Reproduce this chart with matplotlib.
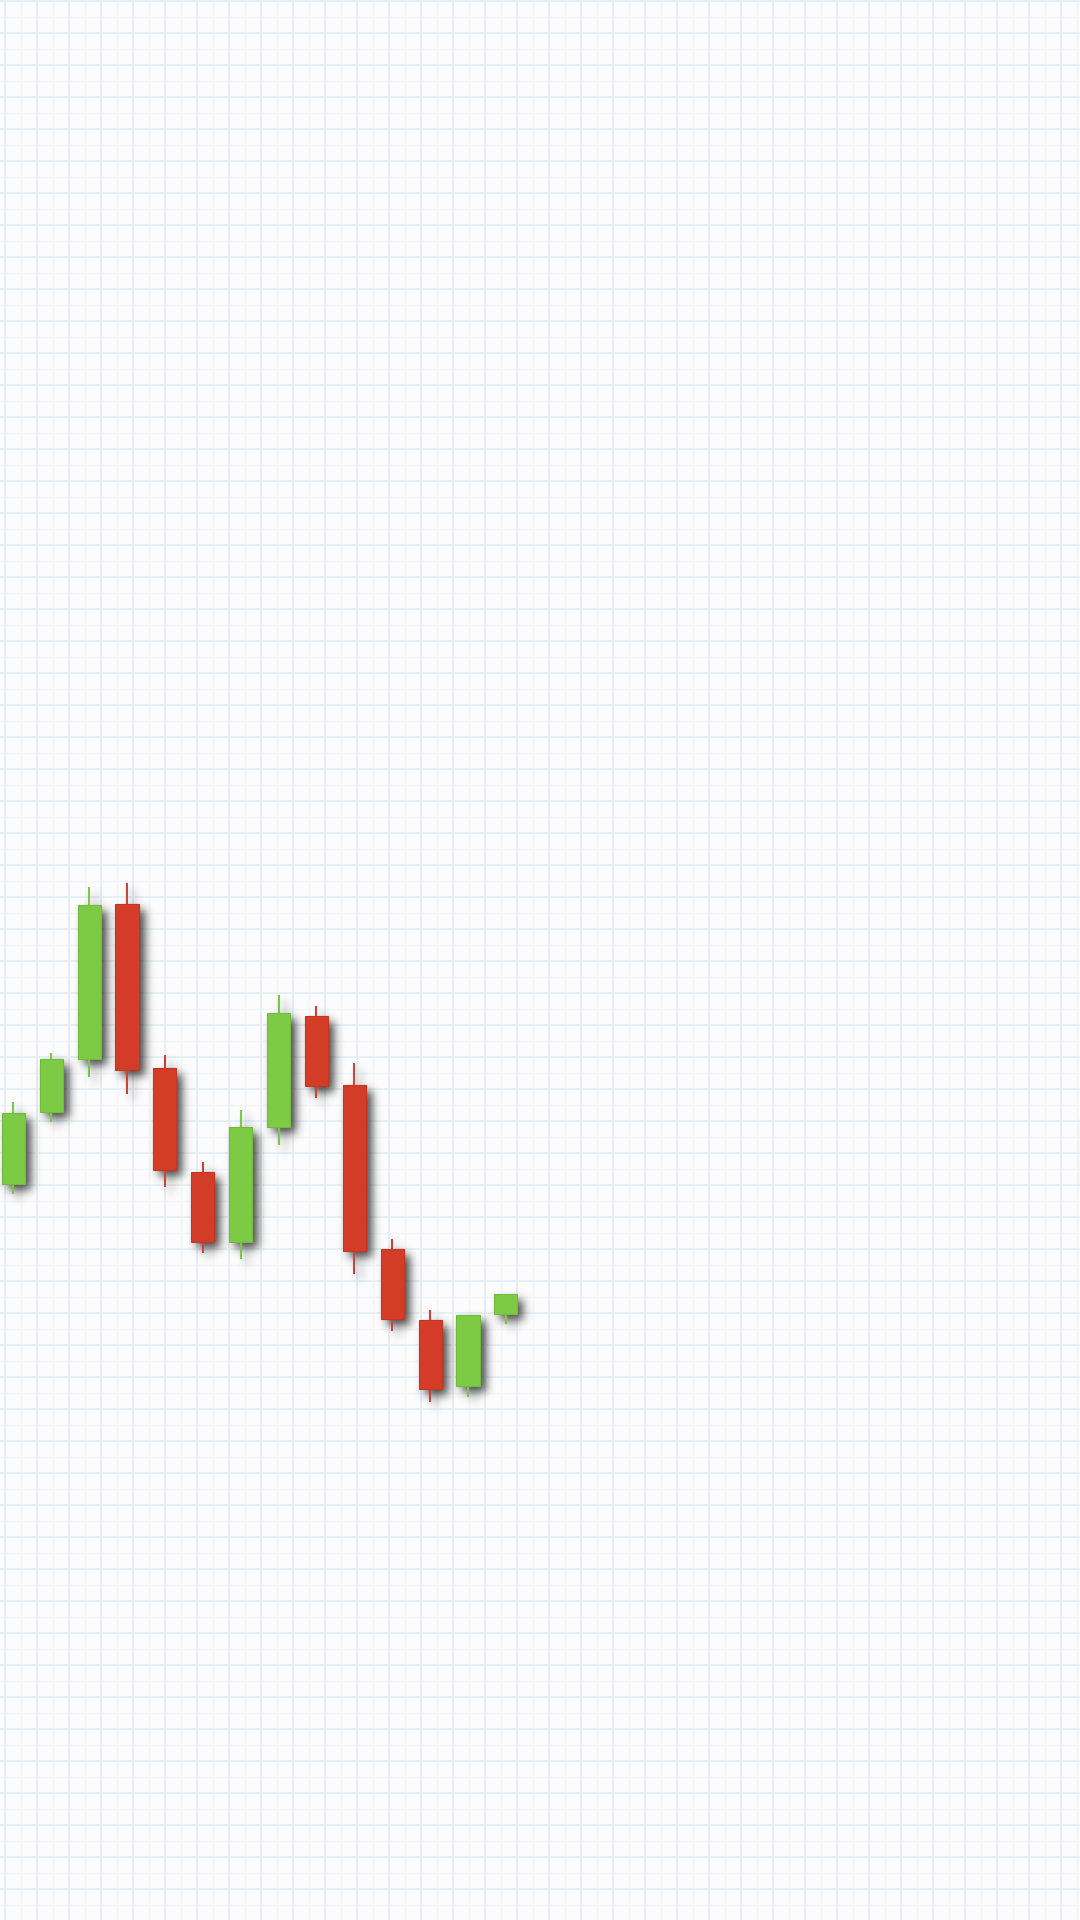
import numpy as np
import matplotlib
matplotlib.use("Agg")
import matplotlib.pyplot as plt

# ---- data (OHLC) ----
idx = list(range(14))
opens  = [73.6, 80.8, 86.1, 101.6, 85.2, 74.8, 67.8, 79.3, 90.4, 83.5, 67.1, 60.0, 53.4, 60.6]
highs  = [81.8, 86.7, 103.3, 103.7, 86.5, 75.8, 81.0, 92.5, 91.4, 85.7, 68.1, 61.0, 60.5, 62.6]
lows   = [72.6, 79.8, 84.3, 82.6, 73.3, 66.7, 66.1, 77.5, 82.2, 64.6, 58.9, 51.8, 52.3, 59.6]
closes = [80.7, 86.1, 101.5, 85.0, 75.0, 67.8, 79.3, 90.7, 83.4, 66.9, 60.1, 53.1, 60.5, 62.6]

W, H, DPI = 1080, 1920, 100
fig = plt.figure(figsize=(W / DPI, H / DPI), dpi=DPI)
fig.patch.set_facecolor("#fcfcfd")

# background axes in pixel units: grid + shadows
bg = fig.add_axes([0, 0, 1, 1], zorder=0)
bg.set_xlim(0, W)
bg.set_ylim(H, 0)
bg.set_facecolor("#fcfcfd")
bg.axis("off")
for xv in np.arange(5 + 16, W, 32):
    bg.axvline(xv, color="#f1f4f9", lw=1.0, zorder=0)
for yv in np.arange(1 + 16, H, 32):
    bg.axhline(yv, color="#f1f5f8", lw=1.0, zorder=0)
for xv in np.arange(5, W, 32):
    bg.axvline(xv, color="#e5ecf6", lw=1.3, zorder=0.5)
for yv in np.arange(1, H, 32):
    bg.axhline(yv, color="#e5eff5", lw=1.3, zorder=0.5)

# main axes
ax = fig.add_axes([0, 0, 1, 1], zorder=2)
ax.set_facecolor("none")
ax.set_xlim(-0.351, 28.15)
ax.set_ylim(0, 192)
ax.axis("off")

bw = 0.61
up = [c >= o for o, c in zip(opens, closes)]
body_col = ["#7dca44" if u else "#d33d27" for u in up]
edge_col = ["#70bb3c" if u else "#c3361f" for u in up]
wick_col = ["#7cc64a" if u else "#c9443a" for u in up]

# shadow mask computed from the data through the axes transform
mask = np.zeros((H, W))
off = 6
for i in idx:
    lo, hi = min(opens[i], closes[i]), max(opens[i], closes[i])
    (x0, y0), (x1, y1) = ax.transData.transform([(i - bw / 2, lo), (i + bw / 2, hi)])
    r0, r1 = int(round(H - y1)) + off, int(round(H - y0)) + off
    c0, c1 = int(round(x0)) + off, int(round(x1)) + off
    mask[max(r0, 0):max(r1, 0), max(c0, 0):max(c1, 0)] = 1.0
    (wx, wy0), (_, wy1) = ax.transData.transform([(i, lows[i]), (i, highs[i])])
    wr0, wr1 = int(round(H - wy1)) + off, int(round(H - wy0)) + off
    wc = int(round(wx)) + off
    mask[wr0:wr1, wc - 1:wc + 1] = np.maximum(mask[wr0:wr1, wc - 1:wc + 1], 0.7)

sigma = 4.6
ks = np.arange(-15, 16)
kern = np.exp(-0.5 * (ks / sigma) ** 2)
kern /= kern.sum()
blur = np.zeros_like(mask)
for k, w in zip(ks, kern):
    blur += w * np.roll(mask, k, axis=0)
blur2 = np.zeros_like(blur)
for k, w in zip(ks, kern):
    blur2 += w * np.roll(blur, k, axis=1)
rgba = np.zeros((H, W, 4))
rgba[..., :3] = 0.1
rgba[..., 3] = np.clip(blur2 * 1.1, 0, 1) * 0.72
bg.imshow(rgba, extent=(0, W, H, 0), origin="upper", zorder=1, interpolation="bilinear")

# candles
ax.vlines(idx, lows, highs, colors=wick_col, lw=1.5, zorder=2)
heights = [c - o for o, c in zip(opens, closes)]
ax.bar(idx, heights, bottom=opens, width=bw, color=body_col,
       edgecolor=edge_col, linewidth=0.8, zorder=3)

fig.savefig("out.png", dpi=DPI, facecolor=fig.get_facecolor())
